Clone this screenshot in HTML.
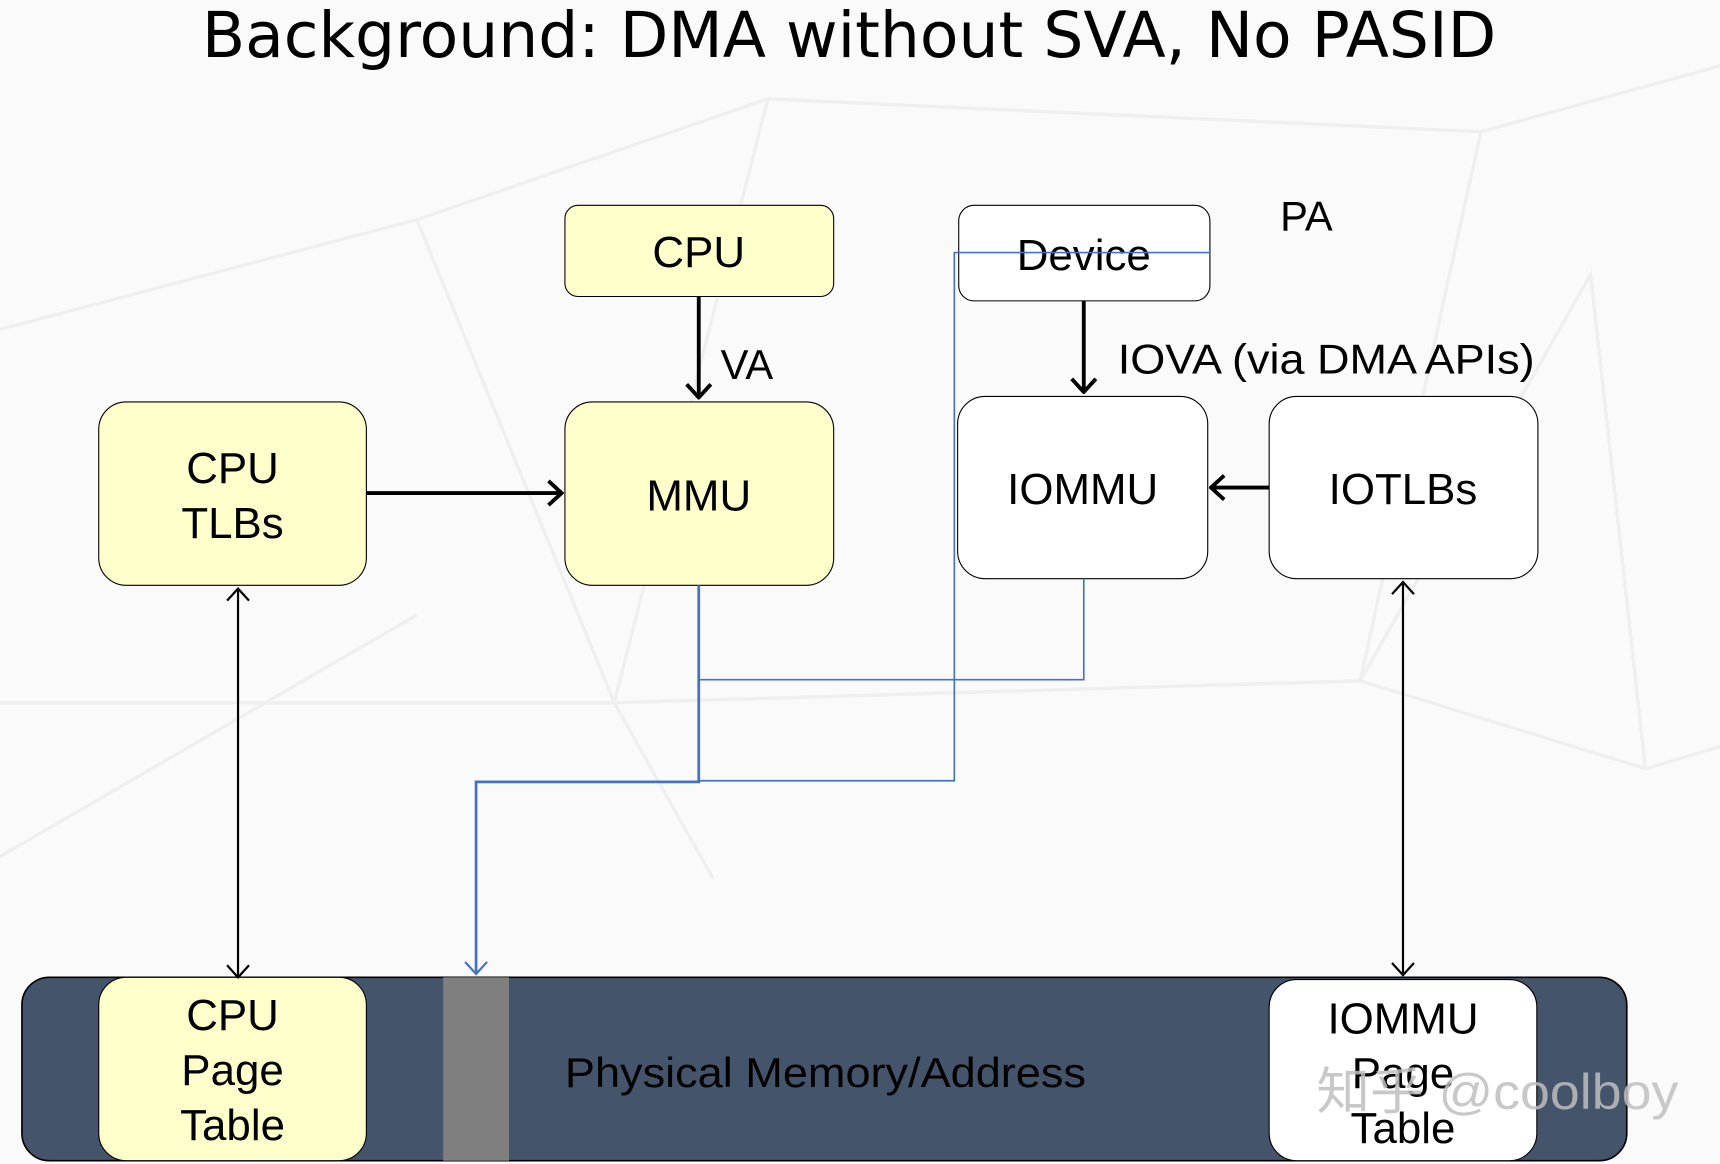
<!DOCTYPE html>
<html><head><meta charset="utf-8"><style>
html,body{margin:0;padding:0;background:#fafafa;}
svg{display:block;}
text{font-family:"Liberation Sans","Noto Sans CJK SC",sans-serif;fill:#000;}
</style></head><body>
<svg width="1720" height="1164" viewBox="0 0 1568 1060" preserveAspectRatio="none" xmlns="http://www.w3.org/2000/svg">
<defs>
<marker id="a" markerWidth="16" markerHeight="26" refX="14" refY="13" orient="auto" markerUnits="userSpaceOnUse"><path d="M2,2 L14,13 L2,24" fill="none" stroke="#000" stroke-width="3.5"/></marker>
<marker id="t" markerWidth="14" markerHeight="24" refX="12" refY="12" orient="auto-start-reverse" markerUnits="userSpaceOnUse"><path d="M1,2 L12,12 L1,22" fill="none" stroke="#000" stroke-width="2"/></marker>
<marker id="b" markerWidth="14" markerHeight="24" refX="12" refY="12" orient="auto" markerUnits="userSpaceOnUse"><path d="M1,2 L12,12 L1,22" fill="none" stroke="#4472c4" stroke-width="2"/></marker>
</defs>
<rect width="1568" height="1060" fill="#fafafa"/>
<g stroke="#efefef" stroke-width="3" fill="none">
<path d="M0,300 L380,200 L700,90 L1350,120 L1568,60"/>
<path d="M380,200 L560,640 L1240,620 L1500,700 L1568,680"/>
<path d="M700,90 L560,640 L650,800"/>
<path d="M1350,120 L1240,620 L1450,250 L1500,700"/>
<path d="M0,640 L560,640 M0,780 L380,560"/>
</g>
<text x="774" y="52" font-size="58" text-anchor="middle" textLength="1180" lengthAdjust="spacingAndGlyphs" style="font-family:'DejaVu Sans',sans-serif">Background: DMA without SVA, No PASID</text>

<rect x="20" y="890" width="1463" height="167" rx="25" fill="#44546a" stroke="#000" stroke-width="1.5"/>
<rect x="404" y="890" width="60" height="167" fill="#7f7f7f"/>
<rect x="90" y="890" width="244" height="167" rx="25" fill="#ffffcc" stroke="#000" stroke-width="1"/>
<rect x="1157" y="892" width="244" height="165" rx="25" fill="#fff" stroke="#000" stroke-width="1"/>
<g font-size="40" text-anchor="middle">
<text x="212" y="938">CPU</text><text x="212" y="988">Page</text><text x="212" y="1038">Table</text>
<text x="1279" y="941">IOMMU</text><text x="1279" y="991">Page</text><text x="1279" y="1041">Table</text>
</g>
<text x="515" y="990" font-size="38" textLength="475" lengthAdjust="spacingAndGlyphs">Physical Memory/Address</text>
<text x="1200" y="1010" font-size="46" textLength="330" lengthAdjust="spacingAndGlyphs" style="fill:rgba(190,190,190,0.85)">知乎 @coolboy</text>

<rect x="515" y="187" width="245" height="83" rx="12" fill="#ffffcc" stroke="#000"/>
<rect x="515" y="366" width="245" height="167" rx="25" fill="#ffffcc" stroke="#000"/>
<rect x="90" y="366" width="244" height="167" rx="25" fill="#ffffcc" stroke="#000"/>
<rect x="874" y="187" width="229" height="87" rx="14" fill="#fff" stroke="#000"/>
<rect x="873" y="361" width="228" height="166" rx="25" fill="#fff" stroke="#000"/>
<rect x="1157" y="361" width="245" height="166" rx="25" fill="#fff" stroke="#000"/>
<g font-size="40" text-anchor="middle">
<text x="637" y="243">CPU</text>
<text x="637" y="465">MMU</text>
<text x="212" y="440">CPU</text><text x="212" y="490">TLBs</text>
<text x="988" y="246">Device</text>
<text x="987" y="459">IOMMU</text>
<text x="1279" y="459">IOTLBs</text>
</g>
<text x="657" y="345" font-size="38">VA</text>
<text x="1167" y="210" font-size="38">PA</text>
<text x="1019" y="340" font-size="38" textLength="380" lengthAdjust="spacingAndGlyphs">IOVA (via DMA APIs)</text>

<g stroke="#000" stroke-width="3.5" fill="none">
<line x1="637" y1="270" x2="637" y2="362" marker-end="url(#a)"/>
<line x1="334" y1="449" x2="512" y2="449" marker-end="url(#a)"/>
<line x1="988" y1="274" x2="988" y2="357" marker-end="url(#a)"/>
<line x1="1157" y1="444" x2="1104" y2="444" marker-end="url(#a)"/>
</g>
<g stroke="#000" stroke-width="2" fill="none">
<line x1="217" y1="536" x2="217" y2="890" marker-start="url(#t)" marker-end="url(#t)"/>
<line x1="1279" y1="530" x2="1279" y2="888" marker-start="url(#t)" marker-end="url(#t)"/>
</g>
<g stroke="#4472c4" fill="none">
<path d="M637,533 L637,712 L434,712 L434,887" stroke-width="2.5" marker-end="url(#b)"/>
<path d="M988,527 L988,619 L637,619" stroke-width="1.5"/>
<path d="M1103,230 L870,230 L870,711 L637,711" stroke-width="1.5"/>
</g>
</svg>
</body></html>
